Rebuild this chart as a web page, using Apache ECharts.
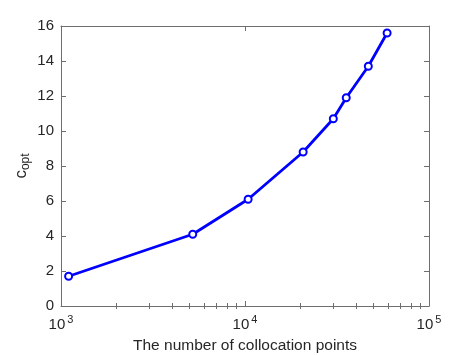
<!DOCTYPE html>
<html>
<head>
<meta charset="utf-8">
<script src="https://cdn.jsdelivr.net/npm/echarts@6/dist/echarts.min.js"></script>
<style>
  html, body { margin: 0; padding: 0; background: #fff; }
  #main { width: 474px; height: 355px; }
</style>
</head>
<body>
<div id="main"></div>
<script>
// collocation points vs optimal shape parameter
const points = [1100, 5200, 10400, 20700, 30200, 35500, 46800, 59200]
const copt = [1.7, 4.1, 6.1, 8.8, 10.7, 11.9, 13.7, 15.6]
const minorTicks = [2000, 3000, 4000, 5000, 6000, 7000, 8000, 9000,
  20000, 30000, 40000, 50000, 60000, 70000, 80000, 90000]

const font = '"Liberation Sans", Arial, sans-serif'
const textColor = '#262626'
const lineColor = '#6e6e6e'

const chart = echarts.init(document.getElementById('main'), null, { renderer: 'canvas' })

const logAxis = (extra) => Object.assign({
  type: 'log',
  logBase: 10,
  min: 1000,
  max: 100000,
  axisLine: { show: true, onZero: false, lineStyle: { color: lineColor, width: 1 } },
  axisTick: { show: true, inside: true, length: 5, lineStyle: { color: lineColor } },
  axisLabel: { show: false },
  splitLine: { show: false },
  minorTick: { show: false }
}, extra)

chart.setOption({
  animation: false,
  backgroundColor: '#fff',
  grid: { left: 61, right: 45, top: 26, bottom: 49, containLabel: false, outerBoundsMode: 'none' },
  xAxis: [
    logAxis({
      position: 'bottom',
      name: 'The number of collocation points',
      nameLocation: 'middle',
      nameGap: 32,
      nameMoveOverlap: false,
      nameTextStyle: { color: textColor, fontFamily: font, fontSize: 15.5 },
      axisLabel: {
        show: true,
        margin: 8,
        formatter: function (v) {
          return '{b|10}{s|' + Math.round(Math.log10(v)) + '}'
        },
        rich: {
          b: { fontFamily: font, fontSize: 15, color: textColor },
          s: { fontFamily: font, fontSize: 11, color: textColor, verticalAlign: 'bottom', padding: [0, 0, 10, 2] }
        }
      }
    }),
    logAxis({
      position: 'bottom',
      axisLine: { show: false },
      axisTick: { show: true, inside: true, length: 3, customValues: minorTicks, lineStyle: { color: lineColor } }
    }),
    logAxis({ position: 'top' }),
    logAxis({
      position: 'top',
      axisLine: { show: false },
      axisTick: { show: true, inside: true, length: 3, customValues: minorTicks, lineStyle: { color: lineColor } }
    })
  ],
  yAxis: [
    {
      type: 'value',
      min: 0,
      max: 16,
      interval: 2,
      position: 'left',
      name: '{c|c}{sub|opt}',
      nameLocation: 'middle',
      nameGap: 29,
      nameMoveOverlap: false,
      nameRotate: 90,
      nameTextStyle: {
        rich: {
          c: { fontFamily: font, fontSize: 17, color: textColor },
          sub: { fontFamily: font, fontSize: 12, color: textColor, verticalAlign: 'top', padding: [9, 0, 0, 0] }
        }
      },
      axisLine: { show: true, onZero: false, lineStyle: { color: lineColor } },
      axisTick: { show: true, inside: true, length: 5, lineStyle: { color: lineColor } },
      axisLabel: { show: true, margin: 7, fontFamily: font, fontSize: 15, color: textColor },
      splitLine: { show: false }
    },
    {
      type: 'value',
      min: 0,
      max: 16,
      interval: 2,
      position: 'right',
      axisLine: { show: true, onZero: false, lineStyle: { color: lineColor } },
      axisTick: { show: true, inside: true, length: 5, lineStyle: { color: lineColor } },
      axisLabel: { show: false },
      splitLine: { show: false }
    }
  ],
  series: [
    {
      type: 'line',
      xAxisIndex: 0,
      yAxisIndex: 0,
      data: points.map((p, i) => [p, copt[i]]),
      symbol: 'emptyCircle',
      symbolSize: 7,
      lineStyle: { color: '#0000ff', width: 2.8 },
      itemStyle: { color: '#0000ff', borderColor: '#0000ff', borderWidth: 2 }
    }
  ]
})
</script>
</body>
</html>
